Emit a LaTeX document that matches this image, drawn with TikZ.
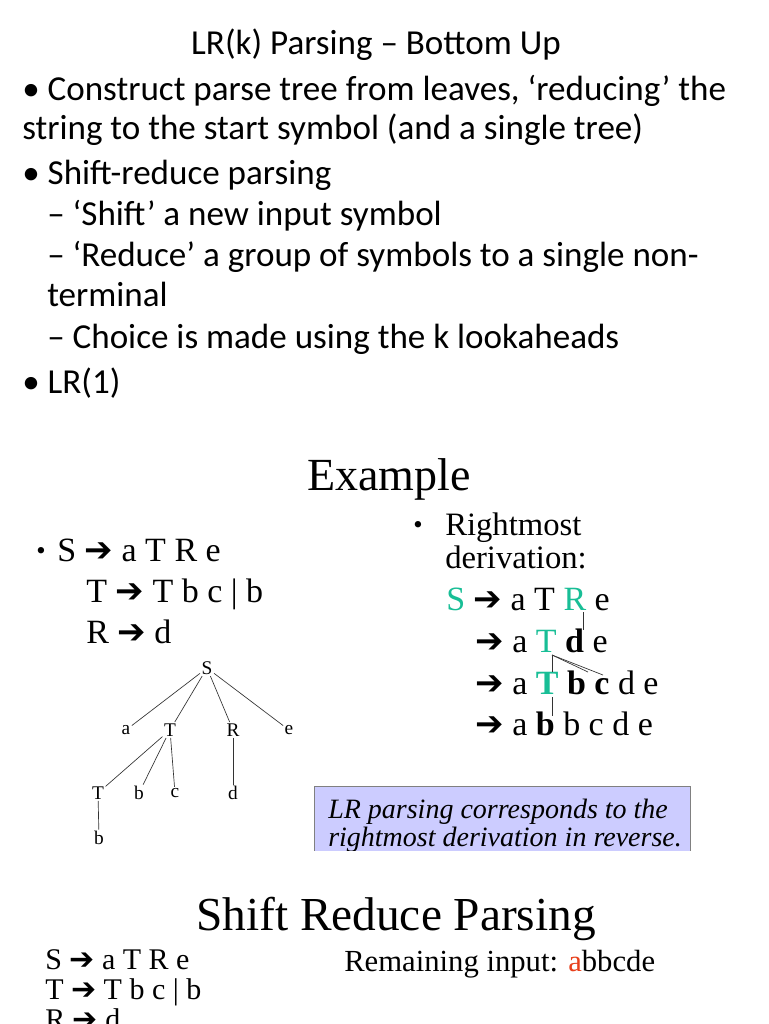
\documentclass[tikz,border=0pt]{standalone}
\usepackage{fontspec}
\setmainfont{Liberation Serif}
\newfontfamily\calfnt{Carlito}
\newfontfamily\dvfnt{DejaVu Sans}
\definecolor{teal1}{RGB}{24,190,150}
\definecolor{red1}{RGB}{232,64,28}
\definecolor{boxfill}{RGB}{204,204,255}
\newcommand{\myar}{{\dvfnt\char"2794}}
\begin{document}
\begin{tikzpicture}[x=0.75pt,y=-0.75pt,
  top/.style={anchor=base west,inner sep=0,font=\calfnt\fontsize{26.3}{30}\selectfont},
  ser/.style={anchor=base west,inner sep=0,font=\fontsize{25.5}{29}\selectfont},
  tr/.style={inner sep=1pt,font=\fontsize{14.5}{16}\selectfont},
  tl/.style={line width=0.5pt,black!80}]
\useasboundingbox (0,0) rectangle (768,1024);
\clip (0,0) rectangle (768,1024);
\fill[white] (0,0) rectangle (768,1024);
% top
\node[top,anchor=base] (t1) at (376,55) {LR(k) Parsing – Bottom Up};
\node[top] (t2) at (22,100) {• Construct parse tree from leaves, ‘reducing’ the};
\node[top] (t3) at (22,139) {string to the start symbol (and a single tree)};
\node[top] (t4) at (22,184) {• Shift-reduce parsing};
\node[top] (t5) at (47,225) {– ‘Shift’ a new input symbol};
\node[top] (t6) at (47,266) {– ‘Reduce’ a group of symbols to a single non-};
\node[top] (t7) at (47,306) {terminal};
\node[top] (t8) at (47,348) {– Choice is made using the k lookaheads};
\node[top] (t9) at (22,393) {• LR(1)};
% example
\node[anchor=base,inner sep=0,font=\fontsize{34.5}{38}\selectfont] (ex) at (389,490) {Example};
\node[ser,font=\fontsize{20}{24}\selectfont] (bu1) at (36,559) {•};
\node[ser] (r0) at (57,561) {S \myar\ a T R e};
\node[ser] (r1) at (86,602) {T \myar\ T b c | b};
\node[ser] (r2) at (86,643) {R \myar\ d};
\node[ser,font=\fontsize{20}{24}\selectfont] (bu2) at (413,533) {•};
\node[ser,font=\fontsize{24.5}{28}\selectfont] (d0) at (445,535) {Rightmost};
\node[ser,font=\fontsize{24.5}{28}\selectfont] (d1) at (445,568) {derivation:};
\node[ser] (e1) at (446,610) {\textcolor{teal1}{S} \myar\ a T \textcolor{teal1}{R} e};
\node[ser] (e2) at (475,652) {\myar\ a \textcolor{teal1}{T} \textbf{d} e};
\node[ser] (e3) at (475,694) {\myar\ a \textcolor{teal1}{\textbf{T}} \textbf{b} \textbf{c} d e};
\node[ser] (e4) at (475,735) {\myar\ a \textbf{b} b c d e};
\coordinate (ra) at (583,612); \coordinate (rb) at (583,630);
\coordinate (ta) at (552,655); \coordinate (tb) at (552,672);
\coordinate (tc) at (588,672); \coordinate (td) at (603,675);
\coordinate (te) at (552,697); \coordinate (tf) at (552,716);
\draw[tl] (ra)--(rb); \draw[tl] (ta)--(tb); \draw[tl] (ta)--(tc); \draw[tl] (ta)--(td); \draw[tl] (te)--(tf);
% tree
\node[tr] (S) at (207,668) {S};
\node[tr] (a) at (126,730) {a};
\node[tr] (T) at (170,730) {T};
\node[tr] (R) at (233,730) {R};
\node[tr] (e) at (289,730) {e};
\node[tr] (T2) at (98,793) {T};
\node[tr] (b1) at (139,793) {b};
\node[tr] (c1) at (175,793) {c};
\node[tr] (d) at (233,793) {d};
\node[tr] (b2) at (99,838) {b};
\foreach \u/\v in {S/a,S/T,S/R,S/e,T/T2,T/b1,T/c1,R/d,T2/b2}
  \draw[tl] (\u)--(\v);
% box
\node[draw=black!50,fill=boxfill,line width=0.8pt,anchor=north west,minimum width=376*0.75pt,minimum height=70*0.75pt,inner sep=0] (box) at (314,786) {};
\node[anchor=base west,inner sep=0,font=\itshape\fontsize{21}{24}\selectfont] (bx1) at (328,818) {LR parsing corresponds to the};
\node[anchor=base west,inner sep=0,font=\itshape\fontsize{21}{24}\selectfont] (bx2) at (328,846) {rightmost derivation in reverse.};
\fill[white] (300,851) rectangle (700,870);
% shift reduce
\node[anchor=base,inner sep=0,font=\fontsize{35.5}{40}\selectfont] (sr) at (396,930) {Shift Reduce Parsing};
\node[anchor=base west,inner sep=0,font=\fontsize{22.5}{26}\selectfont] (g1) at (45,969) {S \myar\ a T R e};
\node[anchor=base west,inner sep=0,font=\fontsize{22.5}{26}\selectfont] (g2) at (45,999) {T \myar\ T b c | b};
\node[anchor=base west,inner sep=0,font=\fontsize{22.5}{26}\selectfont] (g3) at (45,1029) {R \myar\ d};
\node[anchor=base west,inner sep=0,font=\fontsize{23}{26}\selectfont] (rem) at (344,971) {Remaining input: \textcolor{red1}{a}bbcde};
\end{tikzpicture}
\end{document}
